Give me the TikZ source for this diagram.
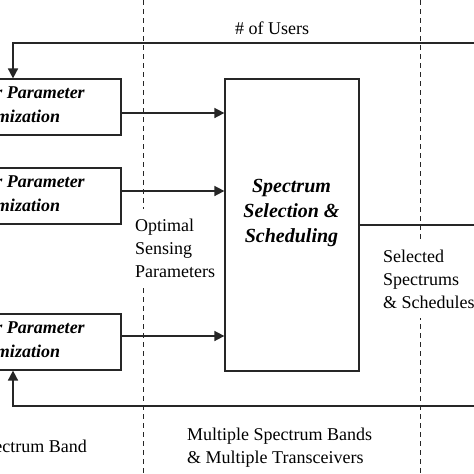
\documentclass[tikz,border=0pt]{standalone}
\usepackage{fontspec}
\setmainfont{Liberation Serif}
\usetikzlibrary{arrows.meta}
\begin{document}
\begin{tikzpicture}[x=1pt,y=-1pt,
  lbox/.style={draw=black!85, line width=1.2pt, minimum width=218pt, minimum height=56pt,
    inner sep=0pt, align=center, font=\fontsize{18}{24}\selectfont\bfseries\itshape},
  bigbox/.style={draw=black!85, line width=1.3pt, minimum width=134pt, minimum height=292pt, inner sep=0pt},
  flow/.style={draw=black!85, line width=1.7pt},
  arr/.style={flow, -{Triangle[length=10pt,width=10pt]}},
  sep/.style={draw=black!85, line width=0.9pt, dash pattern=on 5pt off 4pt},
  lbl/.style={font=\fontsize{18}{23}\selectfont, align=left, inner xsep=2pt, inner ysep=10pt},
]
\useasboundingbox (0,0) rectangle (474,474);
\clip (0,0) rectangle (474,474);
\fill[white] (0,0) rectangle (474,474);

% separators
\coordinate (s1t) at (143,0); \coordinate (s1b) at (143,474);
\coordinate (s2t) at (420,0); \coordinate (s2b) at (420,474);
\draw[sep] (s1t) -- (s1b);
\draw[sep] (s2t) -- (s2b);

% left boxes (cropped by the picture edge)
\node[lbox] (b1) at (12,107) {Detector Parameter\\Optimization};
\node[lbox] (b2) at (12,196) {Detector Parameter\\Optimization};
\node[lbox] (b3) at (12,342) {Detector Parameter\\Optimization};

% central box
\node[bigbox] (ss) at (292,225) {};
\node[font=\fontsize{20}{25}\selectfont\bfseries\itshape, align=center] (sst) at (291.5,213) {Spectrum\\Selection \&\\Scheduling};

% arrows to central box
\coordinate (a1) at (0,113);
\coordinate (a2) at (0,191);
\coordinate (a3) at (0,336);
\draw[arr] (b1.east |- a1) -- (ss.west |- a1);
\draw[arr] (b2.east |- a2) -- (ss.west |- a2);
\draw[arr] (b3.east |- a3) -- (ss.west |- a3);

% output
\coordinate (out) at (474,225);
\draw[flow] (ss.east |- out) -- (out);

% feedback loops
\coordinate (fx) at (13,0);
\coordinate (ft) at (474,43);
\coordinate (fb) at (474,406);
\draw[arr] (ft) -| (fx |- b1.north);
\draw[arr] (fb) -| (fx |- b3.south);

% labels
\node[font=\fontsize{18}{23}\selectfont, anchor=base west, inner sep=0pt] (users) at (235,34) {\# of Users};
\node[lbl, fill=white, anchor=west] (osp) at (133,248.5) {Optimal\\Sensing\\Parameters};
\node[lbl, fill=white, anchor=west] (sel) at (381,279) {Selected\\Spectrums\\\& Schedules};
\node[lbl, anchor=west] (mult) at (185,448) {Multiple Spectrum Bands\\\& Multiple Transceivers};
\node[font=\fontsize{18}{23}\selectfont, anchor=base east, inner sep=0pt] (single) at (87,452) {Single Spectrum Band};
\end{tikzpicture}
\end{document}
